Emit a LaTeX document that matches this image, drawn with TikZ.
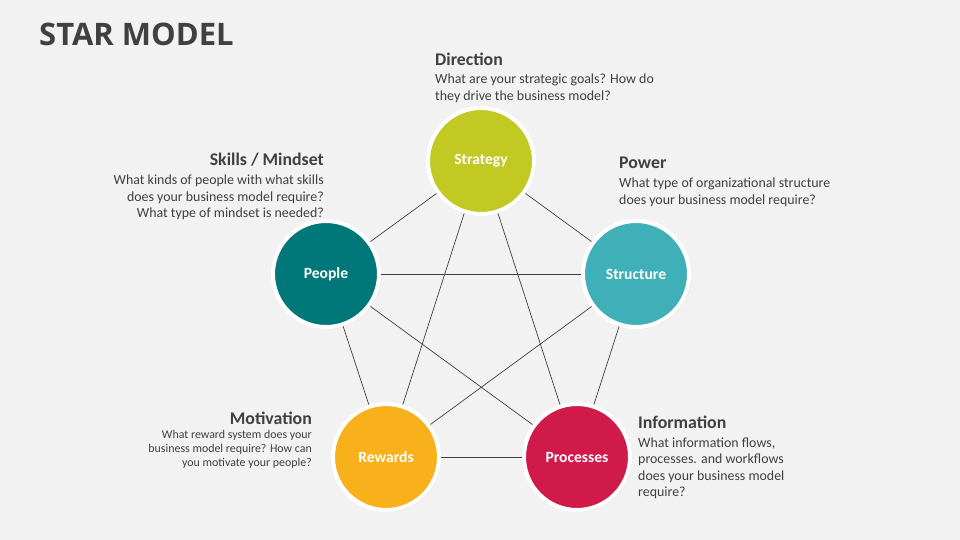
\documentclass[tikz,border=0pt]{standalone}
\usepackage{fontspec}
\setmainfont{Carlito}
\newfontfamily\titlefont{Open Sans}
\usetikzlibrary{shadows}
\definecolor{bg}{HTML}{F2F2F2}
\definecolor{txt}{HTML}{404040}
\definecolor{body}{HTML}{3F3F3F}
\definecolor{cstrat}{HTML}{C2C923}
\definecolor{cpeople}{HTML}{00787A}
\definecolor{cstruct}{HTML}{3FB0B8}
\definecolor{creward}{HTML}{F9B11B}
\definecolor{cproc}{HTML}{CF1A4A}
\tikzset{
  ball/.style={circle, draw=white, line width=4pt, minimum size=106pt, inner sep=0pt,
    text=white, font=\fontsize{15.6}{17}\selectfont\bfseries,
    circular drop shadow={shadow xshift=1.5pt, shadow yshift=-1.5pt, opacity=0.25, shadow scale=1.02}},
  link/.style={draw=txt, line width=0.7pt},
  head/.style={inner sep=0pt, text=txt, font=\fontsize{17.8}{20}\selectfont\bfseries},
  bodytext/.style={inner sep=0pt, text=body, font=\fontsize{13.9}{16.5}\selectfont},
  smalltext/.style={inner sep=0pt, text=body, font=\fontsize{11.9}{14.2}\selectfont},
}
\begin{document}
\begin{tikzpicture}[x=1pt,y=-1pt]
\useasboundingbox (0,0) rectangle (960,540);
\fill[bg] (0,0) rectangle (960,540);
\node[inner sep=0pt, anchor=base west, text=txt, font=\titlefont\fontsize{31}{36}\selectfont\bfseries] (title) at (39,46) {STAR MODEL};

\coordinate (cS) at (481,161);
\coordinate (cP) at (326,274);
\coordinate (cT) at (636,274);
\coordinate (cR) at (386,457);
\coordinate (cQ) at (577,457);

\draw[link] (cS) -- (cP);
\draw[link] (cS) -- (cT);
\draw[link] (cS) -- (cR);
\draw[link] (cS) -- (cQ);
\draw[link] (cP) -- (cT);
\draw[link] (cP) -- (cR);
\draw[link] (cP) -- (cQ);
\draw[link] (cT) -- (cR);
\draw[link] (cT) -- (cQ);
\draw[link] (cR) -- (cQ);

\node[ball, fill=cstrat] (strategy) at (cS) {Strategy};
\node[ball, fill=cpeople] (people) at (cP) {People};
\node[ball, fill=cstruct] (structure) at (cT) {Structure};
\node[ball, fill=creward] (rewards) at (cR) {Rewards};
\node[ball, fill=cproc] (processes) at (cQ) {Processes};

\node[head, anchor=base west] (dirh) at (435,66) {Direction};
\node[bodytext, anchor=north west, align=left] (dirb) at (435,74) {What are your strategic goals? How do\\they drive the business model?};

\node[head, anchor=base east] (skih) at (324,165) {Skills / Mindset};
\node[bodytext, anchor=north east, align=right] (skib) at (324,175) {What kinds of people with what skills\\does your business model require?\\What type of mindset is needed?};

\node[head, anchor=base west] (powh) at (619,169) {Power};
\node[bodytext, anchor=north west, align=left] (powb) at (619,178) {What type of organizational structure\\does your business model require?};

\node[head, anchor=base east] (moth) at (312,424) {Motivation};
\node[smalltext, anchor=north east, align=right] (motb) at (312,430) {What reward system does your\\business model require? How can\\you motivate your people?};

\node[head, anchor=base west] (infh) at (638,428) {Information};
\node[bodytext, anchor=north west, align=left] (infb) at (638,437.5) {What information flows,\\processes. and workflows\\does your business model\\require?};
\end{tikzpicture}
\end{document}
